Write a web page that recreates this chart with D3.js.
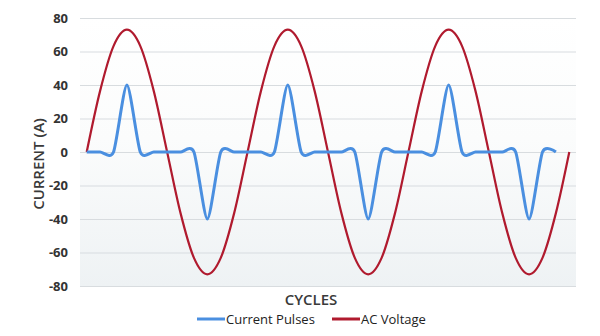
<!DOCTYPE html>
<html>
<head>
<meta charset="utf-8">
<script src="https://cdn.jsdelivr.net/npm/d3@7"></script>
<style>
  body { margin: 0; background: #fff; }
  text { font-family: "Open Sans", "DejaVu Sans", sans-serif; }
</style>
</head>
<body>
<script>
// phase points, every 30 degrees over three cycles
var phase = d3.range(0, 1081, 30);

// AC voltage
var voltage = [0, 36.5, 63.2, 73, 63.2, 36.5, 0, -36.5, -63.2, -73, -63.2, -36.5,
               0, 36.5, 63.2, 73, 63.2, 36.5, 0, -36.5, -63.2, -73, -63.2, -36.5,
               0, 36.5, 63.2, 73, 63.2, 36.5, 0, -36.5, -63.2, -73, -63.2, -36.5,
               0];

// current pulses (stops one point short of the voltage)
var current = [0, 0, 0, 40, 0, 0, 0, 0, 0, -40, 0, 0,
               0, 0, 0, 40, 0, 0, 0, 0, 0, -40, 0, 0,
               0, 0, 0, 40, 0, 0, 0, 0, 0, -40, 0, 0];

var yTicks = [-80, -60, -40, -20, 0, 20, 40, 60, 80];
var seriesNames = ["Current Pulses", "AC Voltage"];
var seriesColors = ["#4a8fe0", "#b01a2e"];

var w = 600;
var h = 336;

var svg = d3.select("body")
    .append("svg")
    .attr("width", w)
    .attr("height", h);

var xScale = d3.scalePoint()
    .domain(phase)
    .range([80, 576])
    .padding(0.5);

var yScale = d3.scaleLinear()
    .domain([-80, 80])
    .range([286, 18]);

// plot background, white fading to light grey
var grad = svg.append("defs").append("linearGradient")
    .attr("id", "bg")
    .attr("x1", 0).attr("y1", 0).attr("x2", 0).attr("y2", 1);
grad.append("stop").attr("offset", "0%").attr("stop-color", "#ffffff");
grad.append("stop").attr("offset", "45%").attr("stop-color", "#fbfcfc");
grad.append("stop").attr("offset", "100%").attr("stop-color", "#eef2f4");

svg.append("rect")
    .attr("x", 80)
    .attr("y", yScale(80))
    .attr("width", 496)
    .attr("height", yScale(-80) - yScale(80))
    .attr("fill", "url(#bg)");

// y axis with gridlines
var yAxis = d3.axisLeft(yScale)
    .tickValues(yTicks)
    .tickFormat(function(d) { return String(d); })
    .tickSize(-496)
    .tickPadding(12);

var gY = svg.append("g")
    .attr("transform", "translate(80,0)")
    .call(yAxis);

gY.select(".domain").remove();
gY.selectAll(".tick line")
    .attr("stroke", "#d8dcdf")
    .attr("stroke-width", 1.2);
gY.selectAll(".tick text")
    .attr("fill", "#333")
    .style("font-size", "13px")
    .style("font-weight", "bold");

// lines, smoothed like the spreadsheet original
var voltLine = d3.line()
    .x(function(d, i) { return xScale(phase[i]); })
    .y(function(d) { return yScale(d); })
    .curve(d3.curveCatmullRom.alpha(0));

// a bit tighter for the pulses so the overshoot stays small
var currLine = d3.line()
    .x(function(d, i) { return xScale(phase[i]); })
    .y(function(d) { return yScale(d); })
    .curve(d3.curveCardinal.tension(0.3));

svg.append("path")
    .datum(voltage)
    .attr("fill", "none")
    .attr("stroke", seriesColors[1])
    .attr("stroke-width", 2.2)
    .attr("d", voltLine);

svg.append("path")
    .datum(current)
    .attr("fill", "none")
    .attr("stroke", seriesColors[0])
    .attr("stroke-width", 3)
    .attr("stroke-linejoin", "round")
    .attr("d", currLine);

// axis titles
svg.append("text")
    .attr("transform", "translate(44,164) rotate(-90)")
    .attr("text-anchor", "middle")
    .attr("fill", "#3a3a3a")
    .style("font-size", "15px")
    .style("font-weight", "600")
    .text("CURRENT (A)");

svg.append("text")
    .attr("x", 311)
    .attr("y", 305)
    .attr("text-anchor", "middle")
    .attr("fill", "#3a3a3a")
    .style("font-size", "15px")
    .style("font-weight", "600")
    .text("CYCLES");

// legend
var legendX = [197, 332];
var legend = svg.selectAll(".legend")
    .data(seriesNames)
    .enter()
    .append("g")
    .attr("class", "legend")
    .attr("transform", function(d, i) { return "translate(" + legendX[i] + ",319)"; });

legend.append("line")
    .attr("x1", 0).attr("x2", 28)
    .attr("y1", 0).attr("y2", 0)
    .attr("stroke", function(d, i) { return seriesColors[i]; })
    .attr("stroke-width", 3);

legend.append("text")
    .attr("x", 29)
    .attr("y", 5)
    .attr("fill", "#222")
    .style("font-size", "13px")
    .text(function(d) { return d; });
</script>
</body>
</html>
